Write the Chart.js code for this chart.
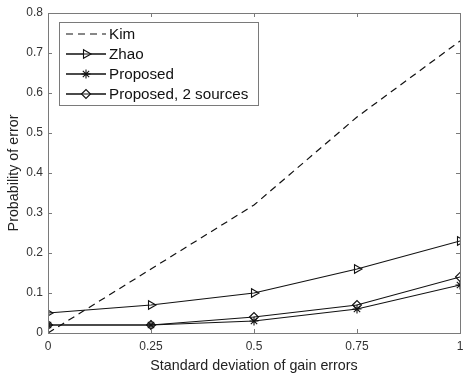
<!DOCTYPE html>
<html><head><meta charset="utf-8">
<script src="https://cdn.jsdelivr.net/npm/chart.js@4"></script>
<style>html,body{margin:0;background:#fff}</style>
</head><body>
<canvas id="chart" width="474" height="375"></canvas>
<script>
const sigma = [0, 0.25, 0.5, 0.75, 1];
const kim = [0, 0.16, 0.32, 0.54, 0.73];
const zhao = [0.05, 0.07, 0.10, 0.16, 0.23];
const proposed = [0.02, 0.02, 0.03, 0.06, 0.12];
const proposed2 = [0.02, 0.02, 0.04, 0.07, 0.14];
const xTicks = [0, 0.25, 0.5, 0.75, 1];
const yTicks = [0, 0.1, 0.2, 0.3, 0.4, 0.5, 0.6, 0.7, 0.8];
const names = ['Kim', 'Zhao', 'Proposed', 'Proposed, 2 sources'];

const FONT = '"Liberation Sans", Arial, sans-serif';
const pts = arr => arr.map((v, i) => ({ x: sigma[i], y: v }));

function ds(label, arr, style, extra={}){
  return Object.assign({
    label, data: pts(arr), borderColor:'#111', borderWidth:1.2,
    pointStyle: style || false, pointRadius: style ? 5 : 0,
    pointBackgroundColor:'rgba(0,0,0,0)', pointBorderColor:'#111', pointBorderWidth:1.1,
    tension:0
  }, extra);
}

const datasets = [
  ds(names[0], kim, false, { borderDash:[7,5] }),
  ds(names[1], zhao, 'triangle', { pointRotation:90 }),
  ds(names[2], proposed, 'star', { pointRadius:4.5 }),
  ds(names[3], proposed2, 'rectRot', { pointRadius:4.5 }),
];

// matlab style box with inward ticks
const boxPlugin = {
  id:'box',
  afterDatasetsDraw(c){
    const { ctx, chartArea:a, scales:{ x, y } } = c;
    ctx.save();
    ctx.strokeStyle = '#7a7a7a'; ctx.lineWidth = 1;
    ctx.strokeRect(a.left + .5, a.top + .5, a.right - a.left, a.bottom - a.top);
    ctx.beginPath();
    xTicks.forEach(t => {
      const px = Math.round(x.getPixelForValue(t)) + .5;
      ctx.moveTo(px, a.bottom); ctx.lineTo(px, a.bottom - 4);
      ctx.moveTo(px, a.top); ctx.lineTo(px, a.top + 4);
    });
    yTicks.forEach(t => {
      const py = Math.round(y.getPixelForValue(t)) + .5;
      ctx.moveTo(a.left, py); ctx.lineTo(a.left + 4, py);
      ctx.moveTo(a.right, py); ctx.lineTo(a.right - 4, py);
    });
    ctx.stroke();
    ctx.restore();
  }
};

// legend: line + marker + text, like matlab
const legendPlugin = {
  id:'mlegend',
  afterDraw(c){
    const ctx = c.ctx;
    const L = 59, T = 22, W = 199, H = 83;
    ctx.save();
    ctx.fillStyle = '#fff'; ctx.fillRect(L, T, W, H);
    ctx.strokeStyle = '#7a7a7a'; ctx.lineWidth = 1;
    ctx.strokeRect(L + .5, T + .5, W, H);
    ctx.font = '15.2px ' + FONT; ctx.textBaseline = 'middle';
    datasets.forEach((d, i) => {
      const yy = T + 12 + i * 20;
      ctx.strokeStyle = '#111'; ctx.lineWidth = 1.2;
      ctx.setLineDash(d.borderDash || []);
      ctx.beginPath(); ctx.moveTo(66, yy); ctx.lineTo(106, yy); ctx.stroke();
      ctx.setLineDash([]);
      if (d.pointStyle){
        ctx.fillStyle = '#fff'; ctx.lineWidth = 1.1;
        Chart.helpers.drawPoint(ctx, { pointStyle:d.pointStyle, radius:d.pointRadius, rotation:d.pointRotation || 0, borderWidth:1.1 }, 86, yy);
        // redraw line through the hollow marker
        ctx.beginPath(); ctx.moveTo(66, yy); ctx.lineTo(106, yy); ctx.lineWidth = 1.2; ctx.stroke();
      }
      ctx.fillStyle = '#111';
      ctx.fillText(d.label, 109, yy + 1);
    });
    ctx.restore();
  }
};

new Chart(document.getElementById('chart'), {
  type:'line',
  data:{ datasets },
  options:{
    responsive:false, animation:false,
    layout:{ padding:{ top:13, right:14, left:5, bottom:0 } },
    plugins:{ legend:{ display:false }, tooltip:{ enabled:false } },
    scales:{
      x:{
        type:'linear', min:0, max:1,
        afterBuildTicks: s => { s.ticks = xTicks.map(v => ({ value:v })); },
        afterFit: s => { s.height = 42; },
        grid:{ display:false }, border:{ display:false },
        ticks:{ color:'#333', font:{ family:FONT, size:12 }, padding:-2, maxRotation:0, callback: v => String(v) },
        title:{ display:true, text:'Standard deviation of gain errors', color:'#222', font:{ family:FONT, size:14.3 }, padding:{ top:4, bottom:0 } }
      },
      y:{
        min:0, max:0.8,
        afterBuildTicks: s => { s.ticks = yTicks.map(v => ({ value:v })); },
        afterFit: s => { s.width = 43; },
        grid:{ display:false }, border:{ display:false },
        ticks:{ color:'#333', font:{ family:FONT, size:12 }, padding:-3, callback: v => String(v) },
        title:{ display:true, text:'Probability of error', color:'#222', font:{ family:FONT, size:14.3 }, padding:{ top:0, bottom:2 } }
      }
    }
  },
  plugins:[boxPlugin, legendPlugin]
});
</script>
</body></html>
